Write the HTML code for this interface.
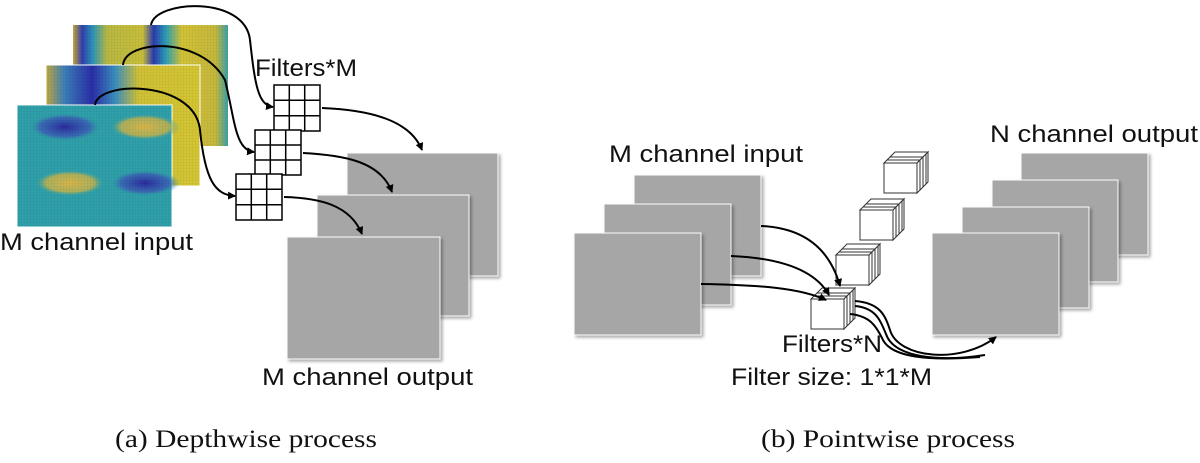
<!DOCTYPE html>
<html><head><meta charset="utf-8"><style>
html,body{margin:0;padding:0;background:#fff;}
svg{display:block;}
.t{font-family:"Liberation Sans",sans-serif;fill:#111;}
.s{font-family:"Liberation Serif",serif;fill:#111;}
</style></head><body>
<svg width="1200" height="463" viewBox="0 0 1200 463" xmlns="http://www.w3.org/2000/svg">
<defs>
<marker id="ah" markerWidth="8" markerHeight="8" refX="7" refY="4" orient="auto" markerUnits="userSpaceOnUse">
<path d="M0,0 L8,4 L0,8 z" fill="#000"/></marker>
<linearGradient id="hb" x1="0" x2="1" y1="0" y2="0">
<stop offset="0" stop-color="#c9a63a"/><stop offset="0.06" stop-color="#2f3fae"/><stop offset="0.13" stop-color="#2d96b8"/><stop offset="0.22" stop-color="#b8b943"/><stop offset="0.45" stop-color="#c8be3a"/><stop offset="0.52" stop-color="#2b3bb0"/><stop offset="0.6" stop-color="#2b9fb5"/><stop offset="0.7" stop-color="#d2c236"/><stop offset="0.92" stop-color="#c6b83c"/><stop offset="1" stop-color="#3aa0a8"/></linearGradient>
<linearGradient id="hm" x1="0" x2="1" y1="0" y2="0">
<stop offset="0" stop-color="#c0a840"/><stop offset="0.12" stop-color="#3a7fb8"/><stop offset="0.3" stop-color="#2a2ea8"/><stop offset="0.45" stop-color="#3b8fbf"/><stop offset="0.6" stop-color="#d0c037"/><stop offset="1" stop-color="#d4c632"/></linearGradient>
<radialGradient id="bb" cx="0.5" cy="0.5" r="0.5"><stop offset="0" stop-color="#2a2a9e"/><stop offset="0.7" stop-color="#3b5fb5" stop-opacity="0.8"/><stop offset="1" stop-color="#2fa0aa" stop-opacity="0"/></radialGradient>
<radialGradient id="yb" cx="0.5" cy="0.5" r="0.5"><stop offset="0" stop-color="#d8b54a"/><stop offset="0.7" stop-color="#c9b44a" stop-opacity="0.8"/><stop offset="1" stop-color="#2fa0aa" stop-opacity="0"/></radialGradient>
<pattern id="grid" width="3" height="3" patternUnits="userSpaceOnUse"><path d="M0,0 H3 M0,0 V3" stroke="#000" stroke-opacity="0.12" stroke-width="0.6"/></pattern>
<filter id="sh" x="-5%" y="-5%" width="115%" height="115%"><feDropShadow dx="2" dy="2" stdDeviation="1.5" flood-opacity="0.35"/></filter>
<g id="cube" stroke="#333" stroke-width="1" fill="#fff">
<path d="M0,0 L11,-11 L44,-11 L33,0 z"/><path d="M33,0 L44,-11 L44,19 L33,30 z"/><path d="M36,-3V27M39,-6V24M42,-9V21M3,-3H36M6,-6H39" fill="none"/><rect x="0" y="0" width="33" height="30"/></g>
</defs>

<!-- (a) input heatmaps -->
<rect x="73" y="25" width="155" height="121" fill="url(#hb)"/><rect x="73" y="25" width="155" height="121" fill="url(#grid)"/>
<rect x="46" y="65" width="154" height="121" fill="url(#hm)" stroke="#fff"/><rect x="46" y="65" width="154" height="121" fill="url(#grid)"/>
<rect x="17" y="105" width="155" height="122" fill="#2fa0aa" stroke="#fff"/>
<ellipse cx="65" cy="127" rx="36" ry="14" fill="url(#bb)"/>
<ellipse cx="145" cy="127" rx="35" ry="13" fill="url(#yb)"/>
<ellipse cx="70" cy="183" rx="35" ry="13" fill="url(#yb)"/>
<ellipse cx="145" cy="183" rx="35" ry="13" fill="url(#bb)"/>
<rect x="17" y="105" width="155" height="122" fill="url(#grid)"/>

<!-- output gray (a) -->
<rect x="347" y="153" width="151" height="123" fill="#a6a6a6" stroke="#fff" filter="url(#sh)"/>
<rect x="317" y="195" width="152" height="121" fill="#a6a6a6" stroke="#fff" filter="url(#sh)"/>
<rect x="287" y="237" width="153" height="122" fill="#a6a6a6" stroke="#fff" filter="url(#sh)"/>

<!-- filters (a) -->
<g stroke="#000" stroke-width="1.5" fill="#fff">
<rect x="274" y="85" width="46" height="46"/><path d="M289.3,85V131M304.7,85V131M274,100.3H320M274,115.7H320"/>
<rect x="255" y="130" width="46" height="45"/><path d="M270.3,130V175M285.7,130V175M255,145H301M255,160H301"/>
<rect x="236" y="174" width="46" height="46"/><path d="M251.3,174V220M266.7,174V220M236,189.3H282M236,204.7H282"/>
</g>
<g stroke="#000" stroke-width="2" fill="none" marker-end="url(#ah)">
<path d="M151,25 C155,0 245,-5 250,40 C255,85 258,105 273,107"/>
<path d="M123,65 C125,40 200,35 225,80 C235,120 235,150 254,152"/>
<path d="M95,105 C98,80 195,80 200,130 C205,180 215,195 235,196"/>
<path d="M322,108 C370,110 410,120 422,150"/>
<path d="M303,153 C340,155 380,160 392,192"/>
<path d="M284,197 C320,198 350,205 362,234"/>
</g>
<text class="t" x="0" y="250" font-size="24" textLength="193" lengthAdjust="spacingAndGlyphs">M channel input</text>
<text class="t" x="255" y="76" font-size="24" textLength="102" lengthAdjust="spacingAndGlyphs">Filters*M</text>
<text class="t" x="262" y="385" font-size="24" textLength="211" lengthAdjust="spacingAndGlyphs">M channel output</text>

<!-- (b) input gray -->
<rect x="634" y="175" width="127" height="101" fill="#a6a6a6" stroke="#fff" filter="url(#sh)"/>
<rect x="604" y="204" width="127" height="101" fill="#a6a6a6" stroke="#fff" filter="url(#sh)"/>
<rect x="574" y="233" width="127" height="102" fill="#a6a6a6" stroke="#fff" filter="url(#sh)"/>
<!-- outputs -->
<rect x="1021" y="153" width="127" height="102" fill="#a6a6a6" stroke="#fff" filter="url(#sh)"/>
<rect x="992" y="180" width="126" height="102" fill="#a6a6a6" stroke="#fff" filter="url(#sh)"/>
<rect x="962" y="207" width="127" height="101" fill="#a6a6a6" stroke="#fff" filter="url(#sh)"/>
<rect x="932" y="233" width="127" height="102" fill="#a6a6a6" stroke="#fff" filter="url(#sh)"/>

<!-- cubes -->
<use href="#cube" x="884" y="163"/>
<use href="#cube" x="860" y="210"/>
<use href="#cube" x="836" y="255"/>
<use href="#cube" x="811" y="299"/>
<g stroke="#000" stroke-width="2" fill="none">
<path d="M761,226 C805,228 830,250 840,286" marker-end="url(#ah)"/>
<path d="M731,256 C780,258 815,270 829,295" marker-end="url(#ah)"/>
<path d="M701,284 C760,285 800,288 826,300" marker-end="url(#ah)"/>
<path d="M855,301 C880,303 885,315 890,330 C898,358 960,365 996,337" marker-end="url(#ah)"/>
<path d="M855,306 C876,308 880,320 886,334 C894,358 940,362 985,355"/>
<path d="M850,314 C870,316 876,326 882,338 C890,358 930,361 980,357"/>
</g>
<text class="t" x="609" y="162" font-size="24" textLength="194" lengthAdjust="spacingAndGlyphs">M channel input</text>
<text class="t" x="990" y="142" font-size="24" textLength="208" lengthAdjust="spacingAndGlyphs">N channel output</text>
<text class="t" x="782" y="352" font-size="24" textLength="100" lengthAdjust="spacingAndGlyphs">Filters*N</text>
<text class="t" x="731" y="385" font-size="24" textLength="201" lengthAdjust="spacingAndGlyphs">Filter size: 1*1*M</text>

<text class="s" x="115" y="447" font-size="25" textLength="262" lengthAdjust="spacingAndGlyphs">(a) Depthwise process</text>
<text class="s" x="761" y="447" font-size="25" textLength="254" lengthAdjust="spacingAndGlyphs">(b) Pointwise process</text>
</svg>
</body></html>
